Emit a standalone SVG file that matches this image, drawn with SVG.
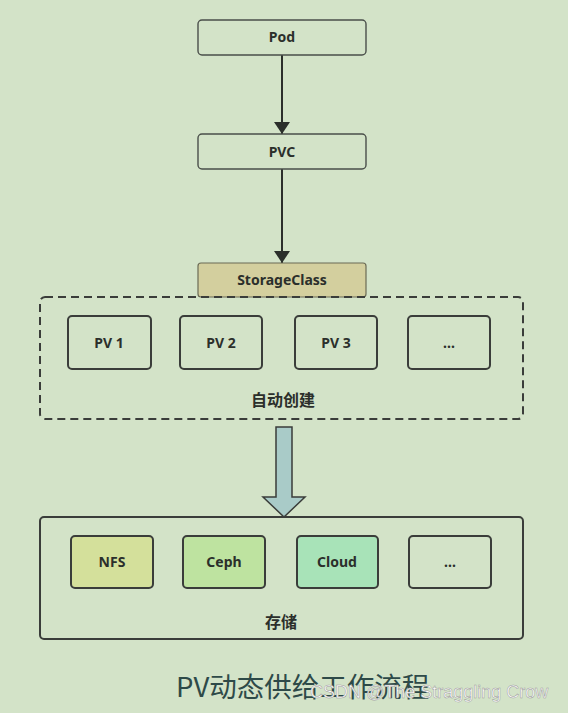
<svg xmlns="http://www.w3.org/2000/svg" width="568" height="713" viewBox="0 0 568 713">
<style>
.box{stroke:#3a3d3a;stroke-width:2;}
.lt{stroke:#4a4f4a;stroke-width:1.4;fill:none;}
.t{font-family:"Noto Sans","Open Sans",sans-serif;font-size:14px;font-weight:bold;fill:#2b2f2b;text-anchor:middle;}
.cj{font-family:"Noto Sans CJK SC",sans-serif;font-size:16px;font-weight:bold;fill:#2b2f2b;text-anchor:middle;}
</style>
<defs>
<marker id="ah" viewBox="0 0 12 16" refX="12" refY="8" markerWidth="12" markerHeight="16" markerUnits="userSpaceOnUse" orient="auto">
<path d="M0,0 L12,8 L0,16 z" fill="#2b2f2b"/>
</marker>
</defs>
<rect width="568" height="713" fill="#d3e3c8"/>
<g id="connectors">
<line x1="282" y1="55" x2="282" y2="134" stroke="#2b2f2b" stroke-width="2" marker-end="url(#ah)"/>
<line x1="282" y1="169" x2="282" y2="263" stroke="#2b2f2b" stroke-width="2" marker-end="url(#ah)"/>
<path d="M276,427 H292 V497 H305 L284,517 L263,497 H276 Z" fill="#a9cbc8" stroke="#3a3d3a" stroke-width="1.5"/>
</g>
<g id="pod"><rect class="lt" x="198" y="20" width="168" height="35" rx="4"/><text class="t" x="282" y="42">Pod</text></g>
<g id="pvc"><rect class="lt" x="198" y="134" width="168" height="35" rx="4"/><text class="t" x="282" y="157">PVC</text></g>
<g id="storageclass"><rect x="198" y="263" width="168" height="34" rx="3" fill="#d3cf9e" stroke="#6b6b55" stroke-width="1.2"/><text class="t" x="282" y="285">StorageClass</text></g>
<g id="auto"><rect x="40" y="297" width="483" height="122" rx="5" fill="none" stroke="#3a3d3a" stroke-width="2" stroke-dasharray="8,5"/><text class="cj" x="283" y="406">自动创建</text></g>
<g id="pv1"><rect class="box" x="68" y="316" width="83" height="53" rx="4" fill="none"/><text class="t" x="109" y="348">PV 1</text></g>
<g id="pv2"><rect class="box" x="180" y="316" width="82" height="53" rx="4" fill="none"/><text class="t" x="221" y="348">PV 2</text></g>
<g id="pv3"><rect class="box" x="295" y="316" width="82" height="53" rx="4" fill="none"/><text class="t" x="336" y="348">PV 3</text></g>
<g id="pvmore"><rect class="box" x="408" y="316" width="82" height="53" rx="4" fill="none"/><text class="t" x="449" y="348">...</text></g>
<g id="storage"><rect x="40" y="517" width="483" height="122" rx="4" fill="none" stroke="#3a3d3a" stroke-width="2"/><text class="cj" x="281" y="628">存储</text></g>
<g id="nfs"><rect class="box" x="71" y="536" width="82" height="52" rx="4" fill="#d4e09b"/><text class="t" x="112" y="567">NFS</text></g>
<g id="ceph"><rect class="box" x="183" y="536" width="82" height="52" rx="4" fill="#bee3a0"/><text class="t" x="224" y="567">Ceph</text></g>
<g id="cloud"><rect class="box" x="297" y="536" width="81" height="52" rx="4" fill="#a8e3b8"/><text class="t" x="337" y="567">Cloud</text></g>
<g id="storemore"><rect class="box" x="409" y="536" width="82" height="52" rx="4" fill="none"/><text class="t" x="450" y="567">...</text></g>
<text x="176" y="697" font-family="'Noto Sans CJK SC',sans-serif" font-size="27.5" fill="#2e4a48">PV动态供给工作流程</text>
<text x="310" y="698" font-family="'Liberation Sans','DejaVu Sans',sans-serif" font-size="18" fill="#ffffff" stroke="#9a9a9a" stroke-width="0.5">CSDN @The Straggling Crow</text>
</svg>
